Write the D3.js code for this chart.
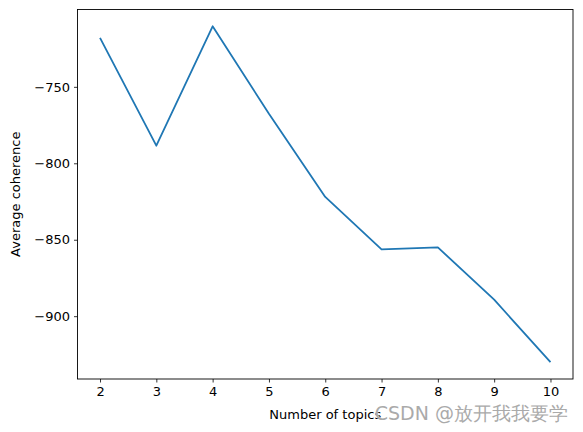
<!DOCTYPE html>
<html>
<head>
<meta charset="utf-8">
<script src="https://cdn.jsdelivr.net/npm/d3@7"></script>
<style>
  body { margin: 0; background: #fff; }
  text { font-family: "DejaVu Sans", sans-serif; }
</style>
</head>
<body>
<div id="chart"></div>
<script>
// data
const topics = [2, 3, 4, 5, 6, 7, 8, 9, 10];
const coherence = [-718, -788.5, -710.4, -767.6, -822, -856.3, -855, -889.2, -930.1];
const yTicks = [-750, -800, -850, -900];

const width = 583, height = 432;
const margin = {top: 9.5, right: 10, bottom: 53, left: 77.5};

const svg = d3.select("#chart")
  .append("svg")
  .attr("width", width)
  .attr("height", height);

// matplotlib style 5% padding
const xPad = (d3.max(topics) - d3.min(topics)) * 0.05;
const yPad = (d3.max(coherence) - d3.min(coherence)) * 0.05;

const x = d3.scaleLinear()
  .domain([d3.min(topics) - xPad, d3.max(topics) + xPad])
  .range([margin.left, width - margin.right]);

const y = d3.scaleLinear()
  .domain([d3.min(coherence) - yPad, d3.max(coherence) + yPad])
  .range([height - margin.bottom, margin.top]);

const fmt = d => d < 0 ? "\u2212" + Math.abs(d) : d;

// x axis
const gx = svg.append("g")
  .attr("transform", `translate(0,${height - margin.bottom})`)
  .call(d3.axisBottom(x).tickValues(topics).tickSize(3.5).tickPadding(4).tickFormat(d3.format("d")));

// y axis
const gy = svg.append("g")
  .attr("transform", `translate(${margin.left},0)`)
  .call(d3.axisLeft(y).tickValues(yTicks).tickSize(3.5).tickPadding(4).tickFormat(fmt));

[gx, gy].forEach(g => {
  g.select(".domain").remove();
  g.selectAll("line").attr("stroke", "#000").attr("stroke-width", 0.8);
  g.selectAll("text").attr("font-size", 13).attr("fill", "#000").attr("font-family", "DejaVu Sans");
});

// frame
svg.append("rect")
  .attr("x", margin.left)
  .attr("y", margin.top)
  .attr("width", width - margin.left - margin.right)
  .attr("height", height - margin.top - margin.bottom)
  .attr("fill", "none")
  .attr("stroke", "#000")
  .attr("stroke-width", 0.9);

// line
const line = d3.line()
  .x((d, i) => x(topics[i]))
  .y(d => y(d));

svg.append("path")
  .datum(coherence)
  .attr("d", line)
  .attr("fill", "none")
  .attr("stroke", "#1f77b4")
  .attr("stroke-width", 1.8)
  .attr("stroke-linejoin", "round");

// axis labels
svg.append("text")
  .attr("x", (margin.left + width - margin.right) / 2)
  .attr("y", 419)
  .attr("text-anchor", "middle")
  .attr("font-size", 13)
  .text("Number of topics");

svg.append("text")
  .attr("transform", `translate(20,${(margin.top + height - margin.bottom) / 2}) rotate(-90)`)
  .attr("text-anchor", "middle")
  .attr("font-size", 13)
  .text("Average coherence");

// watermark
svg.append("text")
  .attr("x", 568)
  .attr("y", 420)
  .attr("text-anchor", "end")
  .attr("font-size", 19)
  .attr("font-family", "'Noto Sans CJK SC', sans-serif")
  .attr("fill", "#aaaaaa")
  .attr("stroke", "#fff")
  .attr("stroke-width", 0.6)
  .attr("paint-order", "stroke")
  .text("CSDN @放开我我要学");
</script>
</body>
</html>
